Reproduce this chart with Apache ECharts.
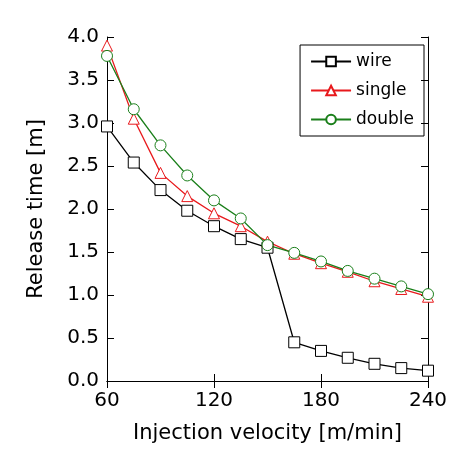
<!DOCTYPE html>
<html>
<head>
<meta charset="utf-8">
<script src="https://cdn.jsdelivr.net/npm/echarts@6/dist/echarts.min.js"></script>
<style>html,body{margin:0;padding:0;background:#fff}#main{width:474px;height:474px}</style>
</head>
<body>
<div id="main"></div>
<script>
// 数据
const velocity = [60, 75, 90, 105, 120, 135, 150, 165, 180, 195, 210, 225, 240];
const wire = [2.96, 2.54, 2.22, 1.98, 1.80, 1.65, 1.55, 0.45, 0.35, 0.27, 0.20, 0.15, 0.12];
const single = [3.90, 3.05, 2.42, 2.15, 1.95, 1.80, 1.62, 1.48, 1.37, 1.27, 1.16, 1.07, 0.98];
const double = [3.78, 3.16, 2.74, 2.39, 2.10, 1.89, 1.58, 1.49, 1.39, 1.28, 1.19, 1.10, 1.01];

const chart = echarts.init(document.getElementById('main'));
const font = 'DejaVu Sans';
const axisLine = { show: true, lineStyle: { color: '#000', width: 1 } };
const tick = { show: true, inside: true, length: 7, lineStyle: { color: '#000' } };

function mk(name, data, color, symbol) {
  return {
    name: name,
    type: 'line',
    data: velocity.map((v, i) => [v, data[i]]),
    symbol: symbol,
    symbolSize: 11,
    lineStyle: { color: color, width: 1.3 },
    itemStyle: { color: '#fff', borderColor: color, borderWidth: 1 },
    color: color
  };
}

chart.setOption({
  animation: false,
  textStyle: { fontFamily: font },
  grid: { left: 107, right: 46, top: 37, bottom: 93 },
  legend: {
    right: 50, top: 45, orient: 'vertical',
    borderColor: '#000', borderWidth: 1, padding: [8, 10, 8, 10],
    itemWidth: 40, itemHeight: 12, itemGap: 12,
    textStyle: { fontSize: 17, fontFamily: font, color: '#000' },
    data: ['wire', 'single', 'double']
  },
  xAxis: [{
    type: 'value', min: 60, max: 240, interval: 60,
    name: 'Injection velocity [m/min]', nameLocation: 'middle', nameGap: 42,
    nameTextStyle: { fontSize: 21, color: '#000', fontFamily: font },
    axisLine: axisLine, axisTick: tick, splitLine: { show: false },
    axisLabel: { fontSize: 20, color: '#000', margin: 10 }
  }, {
    type: 'value', position: 'top', min: 60, max: 240, interval: 60,
    axisLine: axisLine, axisTick: tick, axisLabel: { show: false }, splitLine: { show: false }
  }],
  yAxis: [{
    type: 'value', min: 0, max: 4, interval: 0.5,
    name: 'Release time [m]', nameLocation: 'middle', nameGap: 60,
    nameTextStyle: { fontSize: 21, color: '#000', fontFamily: font },
    axisLine: axisLine, axisTick: tick, splitLine: { show: false },
    axisLabel: { fontSize: 20, color: '#000', margin: 8, formatter: v => v.toFixed(1) }
  }, {
    type: 'value', position: 'right', min: 0, max: 4, interval: 0.5,
    axisLine: axisLine, axisTick: tick, axisLabel: { show: false }, splitLine: { show: false }
  }],
  series: [
    mk('wire', wire, '#000000', 'rect'),
    mk('single', single, '#e8191c', 'triangle'),
    mk('double', double, '#1a7f1a', 'circle')
  ]
});
</script>
</body>
</html>
